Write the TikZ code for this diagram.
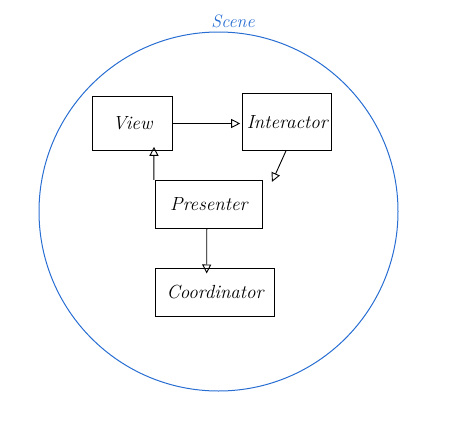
\documentclass[tikz,border=0pt]{standalone}
\usetikzlibrary{arrows.meta}
\definecolor{sceneblue}{RGB}{40,110,210}
\begin{document}
\begin{tikzpicture}[x=1pt,y=-1pt,
  box/.style={draw=black,line width=1pt,inner sep=0pt,font=\fontsize{19}{23}\selectfont\itshape},
  conn/.style={draw=black,line width=0.9pt,-{Triangle[open,length=9pt,width=9pt]}}]
\useasboundingbox (0,0) rectangle (474,431);
\node[draw=sceneblue,line width=1pt,circle,minimum size=359pt,inner sep=0pt] (scene) at (218.5,211.5) {};
\node[text=sceneblue,font=\fontsize{18}{22}\selectfont\itshape] (scenelbl) at (233,21) {Scene};
\node[box,minimum width=79.6pt,minimum height=53.6pt] (view) at (132.5,123.5) {View};
\node[box,minimum width=89pt,minimum height=56.6pt] (inter) at (287.2,122) {Interactor};
\node[box,minimum width=107pt,minimum height=47.7pt] (pres) at (208.8,204.2) {Presenter};
\node[box,minimum width=119.4pt,minimum height=48pt] (coord) at (215,292) {Coordinator};
\draw[conn] (view.east) -- ([xshift=-2pt]view.east -| inter.west);
\draw[conn] ([xshift=-1.2pt]inter.south) -- ([xshift=63.2pt,yshift=-2pt]pres.north);
\draw[conn] ([xshift=-1pt]pres.north west) -- ([xshift=21.5pt,yshift=4pt]view.south);
\draw[conn] ([xshift=-2pt]pres.south) -- ([xshift=-8.3pt,yshift=-6pt]coord.north);
\end{tikzpicture}
\end{document}
